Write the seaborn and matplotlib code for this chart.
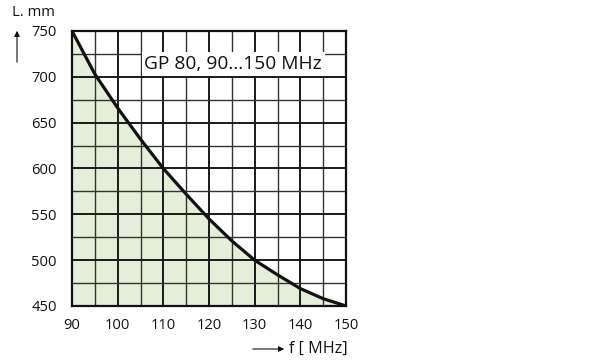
import matplotlib
matplotlib.use("Agg")
import matplotlib.pyplot as plt
import seaborn as sns
import pandas as pd

# Data
freq = [90, 95, 100, 105, 110, 115, 120, 125, 130, 135, 140, 145, 150]
length = [750, 703, 666, 632, 600, 572, 545, 521, 500, 484, 469, 458, 450]
x_ticks = [90, 100, 110, 120, 130, 140, 150]
x_minor = [95, 105, 115, 125, 135, 145]
y_ticks = [450, 500, 550, 600, 650, 700, 750]
y_minor = [475, 525, 575, 625, 675, 725]
box_label = "GP 80, 90\u2026150 MHz"
y_title = "L. mm"
x_title = "f [ MHz]"

sns.set_theme(style="white")
plt.rcParams['font.family'] = ['Open Sans', 'DejaVu Sans']

fig = plt.figure(figsize=(6, 3.62), dpi=100)
ax = fig.add_axes([0.12, 0.1547, 0.4567, 0.7597])

df = pd.DataFrame({'f': freq, 'L': length})

ax.fill_between(df['f'], df['L'], y_ticks[0], color='#e5eed8', lw=0, zorder=0.1)
sns.lineplot(data=df, x='f', y='L', color='#111111', lw=2.3, ax=ax, zorder=3)

ax.set_xlim(x_ticks[0], x_ticks[-1])
ax.set_ylim(y_ticks[0], y_ticks[-1])
ax.set_xticks(x_ticks)
ax.set_yticks(y_ticks)
ax.set_xticks(x_minor, minor=True)
ax.set_yticks(y_minor, minor=True)
ax.set_axisbelow(True)
ax.grid(which='major', color='#1a1a1a', lw=1.4)
ax.grid(which='minor', color='#333333', lw=1.0)
ax.tick_params(which='both', length=0)
ax.tick_params(axis='y', pad=11, labelsize=10.6, colors='#111111')
ax.tick_params(axis='x', pad=9, labelsize=10.6, colors='#111111')
ax.set_xlabel('')
ax.set_ylabel('')
for s in ax.spines.values():
    s.set_visible(True)
    s.set_color('#111111')
    s.set_linewidth(1.6)

ax.text(125.3, 714, box_label, ha='center', va='center', fontsize=13.8, color='#111111',
        zorder=4, bbox=dict(facecolor='white', edgecolor='none', pad=2.0))

fig.text(12 / 600, 1 - 12.5 / 362, y_title, ha='left', va='center', fontsize=10.6, color='#111111')
ax.annotate('', xy=(17 / 600, 1 - 28 / 362), xytext=(17 / 600, 1 - 65 / 362),
            xycoords='figure fraction', textcoords='figure fraction',
            arrowprops=dict(arrowstyle='-|>', color='#111111', lw=0.8, mutation_scale=8))
ax.annotate('', xy=(287 / 600, 1 - 349 / 362), xytext=(250 / 600, 1 - 349 / 362),
            xycoords='figure fraction', textcoords='figure fraction',
            arrowprops=dict(arrowstyle='-|>', color='#111111', lw=0.8, mutation_scale=8))
fig.text(289 / 600, 1 - 349 / 362, x_title, ha='left', va='center', fontsize=11.6, color='#111111')

fig.savefig('out.png', dpi=100)
